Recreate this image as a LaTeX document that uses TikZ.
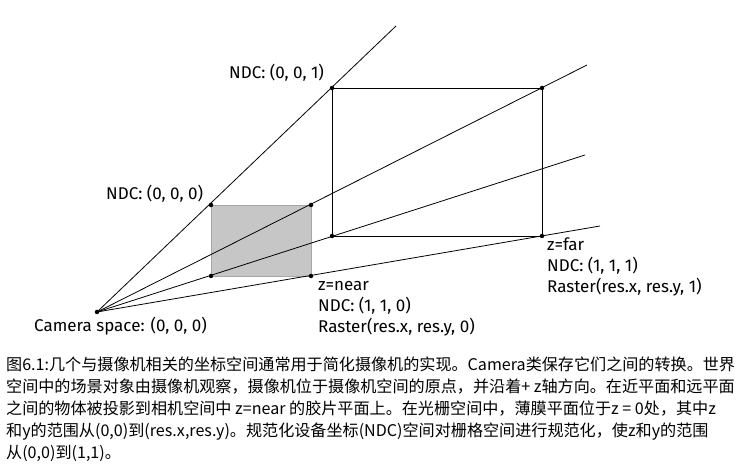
\documentclass[tikz,border=0pt]{standalone}
\usepackage{fontspec}
\setmainfont{Fira Sans}
\newfontfamily\cjk{Noto Sans CJK SC}
\begin{document}
\begin{tikzpicture}[x=1pt,y=-1pt,
  ln/.style={line width=0.8pt},
  dot/.style={circle,fill=black,inner sep=0pt,minimum size=4.5pt},
  lab/.style={font=\fontsize{17}{21}\selectfont,anchor=west,inner sep=0pt},
  captxt/.style={font=\cjk\fontsize{16.1}{17}\selectfont,anchor=base west,inner sep=0pt}]
\useasboundingbox (0,0) rectangle (740,465);
\coordinate (C) at (97,312);
\coordinate (e1) at (396,26);
\coordinate (e2) at (587,65);
\coordinate (e3) at (585,155);
\coordinate (e4) at (600,226);
\fill[gray!45] (211,205) rectangle (311,276);
\draw[gray!70,line width=0.8pt] (211,205) rectangle (311,276);
\draw[ln] (C) -- (e1);
\draw[ln] (C) -- (e2);
\draw[ln] (C) -- (e3);
\draw[ln] (C) -- (e4);
\draw[ln] (332,88) rectangle (542,236);
\node[dot] (c) at (C) {};
\node[dot] (n1) at (211,205) {};
\node[dot] (n2) at (311,205) {};
\node[dot] (n3) at (211,276) {};
\node[dot] (n4) at (311,276) {};
\node[dot] (f1) at (332,88) {};
\node[dot] (f2) at (542,88) {};
\node[dot] (f3) at (332,236) {};
\node[dot] (f4) at (542,236) {};
\node[lab] (t1) at (229,73) {NDC: (0, 0, 1)};
\node[lab] (t2) at (106,194) {NDC: (0, 0, 0)};
\node[lab] (t3) at (34,326) {Camera space: (0, 0, 0)};
\node[lab,align=left,anchor=north west,font=\fontsize{17}{21}\selectfont] (t4) at (318,281) {z=near\\NDC: (1, 1, 0)\\Raster(res.x, res.y, 0)};
\node[lab,align=left,anchor=north west,font=\fontsize{17}{21}\selectfont] (t5) at (547,238) {z=far\\NDC: (1, 1, 1)\\Raster(res.x, res.y, 1)};
\node[captxt] (l1) at (6,371) {图6.1:几个与摄像机相关的坐标空间通常用于简化摄像机的实现。Camera类保存它们之间的转换。世界};
\node[captxt] (l2) at (6,393) {空间中的场景对象由摄像机观察，摄像机位于摄像机空间的原点，并沿着+ z轴方向。在近平面和远平面};
\node[captxt] (l3) at (6,415) {之间的物体被投影到相机空间中 z=near 的胶片平面上。在光栅空间中，薄膜平面位于z = 0处，其中z};
\node[captxt] (l4) at (6,437) {和y的范围从(0,0)到(res.x,res.y)。规范化设备坐标(NDC)空间对栅格空间进行规范化，使z和y的范围};
\node[captxt] (l5) at (6,459) {从(0,0)到(1,1)。};
\end{tikzpicture}
\end{document}
